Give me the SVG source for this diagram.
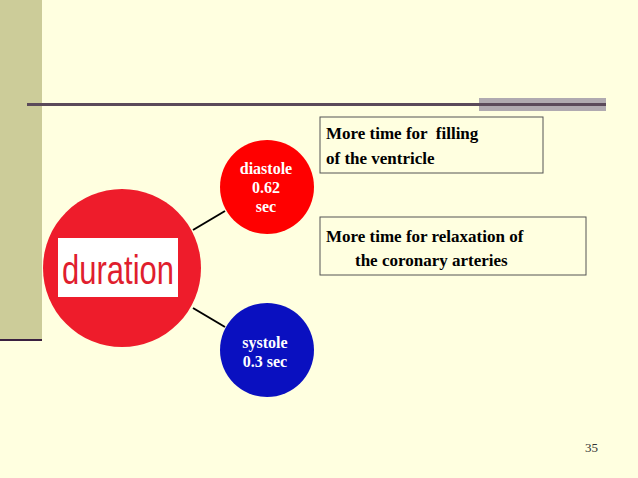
<svg xmlns="http://www.w3.org/2000/svg" width="638" height="478" viewBox="0 0 638 478">
<style>
.t{font-family:"Liberation Serif",serif;font-weight:bold;font-size:17px;fill:#000}
.w{font-family:"Liberation Serif",serif;font-weight:bold;font-size:16px;fill:#fff;text-anchor:middle}
.box{fill:none;stroke:#555;stroke-width:1}
</style>
<rect width="638" height="478" fill="#ffffe0"/>
<rect x="0" y="0" width="42" height="340" fill="#cccc99"/>
<rect x="0" y="339" width="42" height="2" fill="#3a2040"/>
<rect x="479" y="98" width="127" height="13" fill="#b0aab0"/>
<rect x="27" y="103" width="579" height="3" fill="#5b4a5a"/>
<g id="connectors" stroke="#000" stroke-width="2">
<line x1="193" y1="230" x2="225" y2="211"/>
<line x1="193" y1="308" x2="225" y2="327"/>
</g>
<g id="duration">
<circle cx="122" cy="268" r="79" fill="#ee1c2b"/>
<rect x="58" y="238" width="120" height="59" fill="#fff"/>
<text x="118" y="284" text-anchor="middle" font-family="'Liberation Sans',sans-serif" font-size="40" fill="#e01e2e" textLength="112" lengthAdjust="spacingAndGlyphs">duration</text>
</g>
<g id="diastole">
<circle cx="267" cy="187" r="47" fill="#ff0000"/>
<text class="w" x="266" y="174">diastole</text>
<text class="w" x="266" y="193">0.62</text>
<text class="w" x="266" y="212">sec</text>
</g>
<g id="systole">
<circle cx="267" cy="350" r="47" fill="#0a10c0"/>
<text class="w" x="265" y="348">systole</text>
<text class="w" x="265" y="367">0.3 sec</text>
</g>
<g id="box1">
<rect class="box" x="320" y="117" width="223" height="56"/>
<text class="t" x="326" y="139" xml:space="preserve">More time for  filling</text>
<text class="t" x="326" y="164">of the ventricle</text>
</g>
<g id="box2">
<rect class="box" x="320" y="217" width="266" height="58"/>
<text class="t" x="326" y="242">More time for relaxation of</text>
<text class="t" x="355" y="266">the coronary arteries</text>
</g>
<text x="598" y="452" text-anchor="end" font-family="'Liberation Serif',serif" font-size="13" fill="#333">35</text>
</svg>
